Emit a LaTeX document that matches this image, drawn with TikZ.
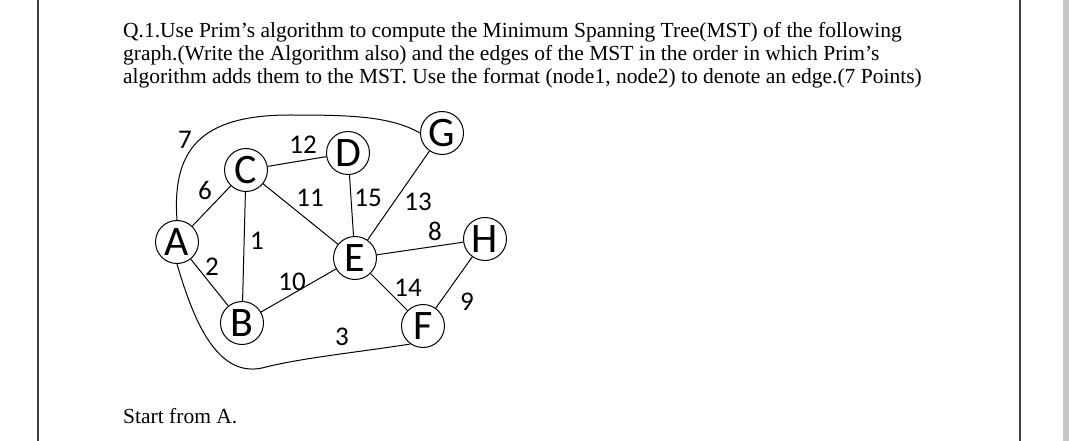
\documentclass[tikz,border=0pt]{standalone}
\usepackage{fontspec}
\setmainfont{Liberation Serif}
\newfontfamily\carfont{Carlito}
\begin{document}
\begin{tikzpicture}[x=1pt,y=-1pt,
  vtx/.style={circle,draw,line width=1pt,minimum size=43pt,inner sep=0pt,font=\carfont\fontsize{42}{42}\selectfont},
  wt/.style={font=\carfont\fontsize{27}{27}\selectfont,inner sep=0pt},
  txt/.style={anchor=base west,inner sep=0pt,font=\fontsize{21.5}{22}\selectfont},
  edge/.style={line width=1pt}]
\useasboundingbox (0,0) rectangle (1069,441);
\fill[gray!45] (1063,0) rectangle (1069,441);
\draw[line width=1.3pt,black!75] (38,0) -- (38,441);
\draw[line width=1.3pt,black!75] (1020,0) -- (1020,441);
\node[txt] (t1) at (123,38) {Q.1.Use Prim’s algorithm to compute the Minimum Spanning Tree(MST) of the following};
\node[txt] (t2) at (123,61) {graph.(Write the Algorithm also) and the edges of the MST in the order in which Prim’s};
\node[txt] (t3) at (123,84) {algorithm adds them to the MST. Use the format (node1, node2) to denote an edge.(7 Points)};
\node[txt] (t4) at (123,423) {Start from A.};
\node[vtx] (A) at (177,242) {A};
\node[vtx] (C) at (246,170) {C};
\node[vtx] (D) at (348,153) {D};
\node[vtx] (G) at (442,133) {G};
\node[vtx] (E) at (355,258) {E};
\node[vtx] (H) at (485,239) {H};
\node[vtx] (B) at (242,323) {B};
\node[vtx] (F) at (423,326) {F};
\draw[edge] (A) -- (C);
\draw[edge] (A) -- (B);
\draw[edge] (C) -- (B);
\draw[edge] (C) -- (D);
\draw[edge] (C) -- (E);
\draw[edge] (D) -- (E);
\draw[edge] (G) -- (E);
\draw[edge] (E) -- (H);
\draw[edge] (B) -- (E);
\draw[edge] (E) -- (F);
\draw[edge] (H) -- (F);
\draw[edge] (A.north) .. controls (172,150) and (200,115) .. (290,115) .. controls (350,115) and (390,116) .. (G.west);
\draw[edge] (A.south) .. controls (192,315) and (215,378) .. (262,368) .. controls (300,358) and (360,352) .. (F.235);
\node[wt] at (185,140) {7};
\node[wt] at (205,190) {6};
\node[wt] at (303,145) {12};
\node[wt] at (310,198) {11};
\node[wt] at (368,198) {15};
\node[wt] at (418,202) {13};
\node[wt] at (435,231) {8};
\node[wt] at (257,241) {1};
\node[wt] at (212,267) {2};
\node[wt] at (292,282) {10};
\node[wt] at (408,288) {14};
\node[wt] at (467,302) {9};
\node[wt] at (342,337) {3};
\end{tikzpicture}
\end{document}
